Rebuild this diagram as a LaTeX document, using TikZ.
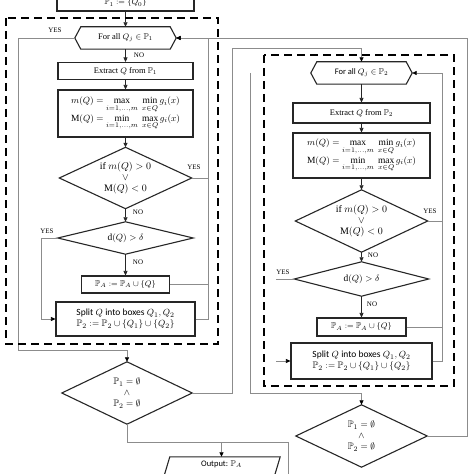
\documentclass[tikz,border=0pt]{standalone}
\usepackage{amsmath,amssymb}
\usepackage{fontspec}
\setmainfont{Liberation Serif}
\newfontfamily\carlito{Carlito}
\usetikzlibrary{shapes.geometric,arrows.meta}
\newcommand\hexpath[1]{\draw[line width=1.1pt, draw=black!85] (#1.west) -- ([xshift=6bp]#1.north west) -- ([xshift=-6bp]#1.north east) -- (#1.east) -- ([xshift=-6bp]#1.south east) -- ([xshift=6bp]#1.south west) -- cycle;}
\newcommand\diapath[1]{\draw[line width=1.1pt, draw=black!85] (#1.north) -- (#1.east) -- (#1.south) -- (#1.west) -- cycle;}
\begin{document}
\begin{tikzpicture}[x=1bp,y=-1bp,
  box/.style={draw=black!85, line width=1.1pt, rectangle, inner sep=1pt, align=center, fill=white},
  dia/.style={rectangle, inner sep=0pt, align=center},
  hexn/.style={rectangle, inner sep=0pt, align=center},
  conn/.style={draw=black!45, line width=0.7pt},
  ctip/.style={-{Triangle[length=4.5bp,width=4bp,color=black]}},
  arr/.style={draw=black!85, line width=0.7pt, -{Triangle[length=4.5bp,width=4bp]}},
  dbox/.style={draw=black, line width=2.3pt, dash pattern=on 8bp off 5bp},
  lab/.style={font=\fontsize{7}{8}\selectfont, inner sep=0pt},
  t8/.style={font=\fontsize{8.5}{10}\selectfont},
  t9/.style={font=\fontsize{9.5}{11}\selectfont},
  t10/.style={font=\fontsize{10}{11}\selectfont},
  tf/.style={font=\fontsize{9.5}{10}\selectfont},
]
\useasboundingbox (0,0) rectangle (474,474);
\clip (0,0) rectangle (474,474);
\fill[white] (0,0) rectangle (474,474);

% ---------- left column ----------
\node[box, t8, minimum width=137bp, minimum height=16bp] (top) at (125.5,3) {$\mathbb{P}_1 := \{Q_0\}$};
\node[hexn, t8, minimum width=101bp, minimum height=22bp] (h1) at (125.5,38) {For all $Q_j \in \mathbb{P}_1$};
\hexpath{h1}
\node[box, t8, minimum width=135bp, minimum height=17bp] (ext1) at (125.5,71) {Extract $Q$ from $\mathbb{P}_1$};
\node[box, tf, minimum width=135bp, minimum height=47bp] (form1) at (125.5,113.5) {$m(Q) = \max\limits_{i=1,\dots,m}\;\min\limits_{x\in Q} g_i(x)$\\[1pt] $\mathrm{M}(Q) = \min\limits_{i=1,\dots,m}\;\max\limits_{x\in Q} g_i(x)$};
\node[dia, t10, minimum width=132bp, minimum height=61bp] (dia1) at (125.5,178) {if $m(Q) > 0$\\ $\vee$\\ $\mathrm{M}(Q) < 0$};
\diapath{dia1}
\node[dia, t9, minimum width=135bp, minimum height=32bp] (dia2) at (125.5,238) {$\mathrm{d}(Q) > \delta$};
\diapath{dia2}
\node[box, t8, minimum width=88bp, minimum height=17bp] (pa1) at (125.5,284.5) {$\mathbb{P}_A := \mathbb{P}_A \cup \{Q\}$};
\node[box, t9, minimum width=139bp, minimum height=34bp] (split1) at (125.5,319) {{\carlito Split} $Q$ {\carlito into boxes} $Q_1,Q_2$\\ $\mathbb{P}_2 := \mathbb{P}_2 \cup \{Q_1\} \cup \{Q_2\}$};
\node[dia, t9, minimum width=130bp, minimum height=62bp] (term1) at (127,393) {$\mathbb{P}_1 = \emptyset$\\ $\wedge$\\ $\mathbb{P}_2 = \emptyset$};
\diapath{term1}
\node[hexn, t8, minimum width=110bp, minimum height=14bp] (out) at (221.5,464) {\carlito Output: $\mathbb{P}_A$};
\draw[line width=1.1pt, draw=black!85] ([xshift=3.5bp]out.north west) -- ([xshift=3.5bp]out.north east) -- ([xshift=-3.5bp,yshift=-9bp]out.south east) -- ([xshift=-3.5bp,yshift=-9bp]out.south west) -- cycle;

% ---------- right column ----------
\node[hexn, t8, minimum width=101bp, minimum height=22bp] (h2) at (361.5,73) {{\carlito For all} $Q_j \in \mathbb{P}_2$};
\hexpath{h2}
\node[box, t8, minimum width=137bp, minimum height=20bp] (ext2) at (361.5,113) {Extract $Q$ from $\mathbb{P}_2$};
\node[box, tf, minimum width=137bp, minimum height=45bp] (form2) at (361.5,155.5) {$m(Q) = \max\limits_{i=1,\dots,m}\;\min\limits_{x\in Q} g_i(x)$\\[1pt] $\mathrm{M}(Q) = \min\limits_{i=1,\dots,m}\;\max\limits_{x\in Q} g_i(x)$};
\node[dia, t10, minimum width=132bp, minimum height=62bp] (dia3) at (361.5,221) {if $m(Q) > 0$\\ $\vee$\\ $\mathrm{M}(Q) < 0$};
\diapath{dia3}
\node[dia, t9, minimum width=134bp, minimum height=34bp] (dia4) at (361.5,279) {$\mathrm{d}(Q) > \delta$};
\diapath{dia4}
\node[box, t8, minimum width=89bp, minimum height=18bp] (pa2) at (361.5,327) {$\mathbb{P}_A := \mathbb{P}_A \cup \{Q\}$};
\node[box, t9, minimum width=141bp, minimum height=36bp] (split2) at (361.5,361) {{\carlito Split} $Q$ {\carlito into boxes} $Q_1,Q_2$\\ $\mathbb{P}_2 := \mathbb{P}_2 \cup \{Q_1\} \cup \{Q_2\}$};
\node[dia, t9, minimum width=131bp, minimum height=62bp] (term2) at (361.5,436) {$\mathbb{P}_1 = \emptyset$\\ $\wedge$\\ $\mathbb{P}_2 = \emptyset$};
\diapath{term2}

% ---------- helper coordinates ----------
\coordinate (lx) at (208,0);
\coordinate (lx2) at (41,0);
\coordinate (lx0) at (18,0);
\coordinate (ly0) at (0,350);
\coordinate (mx) at (232,0);
\coordinate (my) at (0,48);
\coordinate (rx) at (467,0);
\coordinate (rx2) at (442,0);
\coordinate (lx3) at (276,0);
\coordinate (hy) at (250,73);
\coordinate (yr) at (0,393);
\coordinate (yb) at (0,442);
\coordinate (offb) at (288,480);

% ---------- straight arrows ----------
\draw[arr] (top.south) -- (h1.north);
\draw[arr] (h1.south) -- (ext1.north);
\draw[arr] (ext1.south) -- (form1.north);
\draw[arr] (form1.south) -- (dia1.north);
\draw[arr] (dia1.south) -- (dia2.north);
\draw[arr] (dia2.south) -- (pa1.north);
\draw[arr] (h2.south) -- (ext2.north);
\draw[arr] (ext2.south) -- (form2.north);
\draw[arr] (form2.south) -- (dia3.north);
\draw[arr] (dia3.south) -- (dia4.north);
\draw[arr] (dia4.south) -- (pa2.north);

% ---------- loop connectors ----------
\draw[conn,ctip] (h1.west) -| (lx0 |- ly0) -| (term1.north);
\draw[conn,ctip] (split1.east) -| (lx |- h1.east) -- (h1.east);
\draw[conn] (dia1.east) -- (dia1.east -| lx);
\draw[conn] (pa1.east) -- (pa1.east -| lx);
\draw[conn,ctip] (dia2.west) -| (lx2 |- split1.west) -- (split1.west);
\draw[conn,ctip] (term2.east) -| (rx |- h1.east) -- (h1.east);
\draw[conn,ctip] (term1.east) -| (mx |- my) -| (h2.north);
\draw[conn,ctip] (term1.south) |- (out.north |- yb) -- (out.north);
\draw[conn] (out.north |- yb) -| (offb);
\draw[conn,ctip] (hy) |- (term2.north |- yr) -- (term2.north);
\draw[conn,ctip] (split2.east) -| (rx2 |- h2.east) -- (h2.east);
\draw[conn] (dia3.east) -- (dia3.east -| rx2);
\draw[conn] (pa2.east) -- (pa2.east -| rx2);
\draw[conn] (dia4.west) -- (dia4.west -| lx3);
\draw[conn,ctip] (split2.west -| lx3) -- (split2.west);

% ---------- labels ----------
\node[lab] (l1) at (55,30) {YES};
\node[lab] (l2) at (139,55) {NO};
\node[lab] (l3) at (194,167) {YES};
\node[lab] (l4) at (138,212) {NO};
\node[lab] (l5) at (47,231) {YES};
\node[lab] (l6) at (138,262) {NO};
\node[lab] (l7) at (430,211) {YES};
\node[lab] (l8) at (373,255) {NO};
\node[lab] (l9) at (283,272) {YES};
\node[lab] (l10) at (372,304) {NO};

% ---------- dashed frames ----------
\draw[dbox] (6,18) rectangle (218,344);
\draw[dbox] (264,55) rectangle (454,386);
\end{tikzpicture}
\end{document}
